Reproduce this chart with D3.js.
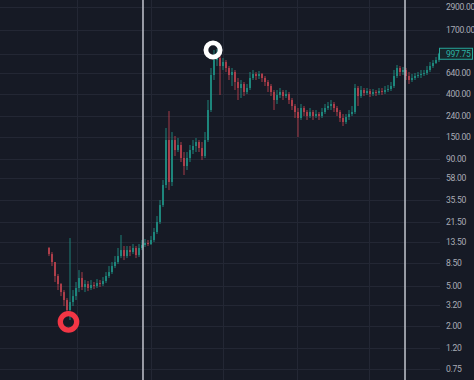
<!DOCTYPE html>
<html><head><meta charset="utf-8">
<script src="https://cdn.jsdelivr.net/npm/d3@7/dist/d3.min.js"></script>
<style>html,body{margin:0;padding:0;background:#161a25;overflow:hidden}</style>
</head><body><svg id="c" width="474" height="380"></svg>
<script>
// ---- data ----
const firstOpen = 11.86;
const closes = [10.33,8.61,6.26,5.21,4.34,3.618,2.88,3.457,3.96,4.76,
5.98,4.87,5.21,4.76,5.095,4.98,5.33,5.21,5.58,6.26,
6.85,7.86,8.61,9.87,11.32,9.87,11.32,10.82,11.86,10.10,
11.86,12.70,13.29,12.99,14.23,17.08,21.46,31.6,49.9,139.4,
53.5,139.4,110.9,124.4,92.4,77.0,92.4,110.9,121.6,133.2,
116.1,96.8,139.4,276.4,614.4,865,905,754,826.4,720.8,
614.4,658,523.7,456.7,500.3,416.8,456.7,573.7,628.6,600.5,
628.6,573.7,523.7,478,416.8,347.3,389.2,416.8,380.4,398.2,
347.3,302.8,264.1,230.3,289.3,264.1,241,264.1,241,252.3,
241,264.1,289.3,302.8,317,289.3,264.1,230.3,210.2,235.6,
252.3,264.1,456.7,380.4,436.3,407.4,426.4,398.2,416.8,407.4,
426.4,416.8,436.3,446.4,478,600.5,720.8,658,688.7,600.5,
548.1,573.7,600.5,614.4,628.6,643.1,688.7,754,808,865,997.75];
const highs = [12.13,10.82,8.61,6.55,5.33,4.545,3.787,14.89,4.545,5.46,
7.17,6.85,5.71,5.58,5.71,5.46,5.84,5.71,6.11,6.85,
7.86,8.61,9.87,11.86,15.95,12.41,12.41,12.41,12.99,12.41,
12.99,14.23,14.56,14.23,15.59,18.72,24.6,35.45,55.95,183.3,
270,167.3,152.8,145.9,133.2,106.0,106.0,124.4,139.4,145.9,
139.4,133.2,167.3,347.3,720.9,1087,1112,947.7,905,865,
754,720.8,688.7,573.7,548.1,523.7,500.3,658,688.7,658,
673.1,643.1,600.5,548.1,500.3,436.3,436.3,456.7,436.3,436.3,
416.8,363.5,317,289.3,317,302.8,276.4,289.3,276.4,276.4,
264.1,289.3,317,331.8,347.3,331.8,302.8,276.4,252.3,252.3,
276.4,302.8,500.3,478,478,456.7,456.7,446.4,446.4,436.3,
456.7,456.7,478,489,523.7,688.7,771.9,754,737.5,720.8,
658,628.6,643.1,658,688.7,688.7,754,826.4,865,926.4,1020];
const lows = [9.87,7.86,5.46,4.545,3.96,3.155,2.51,2.292,3.155,3.618,
4.34,4.545,4.34,4.44,4.545,4.65,4.76,4.87,4.98,5.33,
5.98,6.55,7.50,8.23,9.43,9.01,9.43,9.87,10.33,9.43,
9.65,11.32,12.13,12.41,12.70,13.60,16.32,20.5,30.2,46.6,
44.5,48.8,96.8,106.0,84.4,62.7,70.3,84.4,101.3,106.0,
106.0,88.3,92.4,133.2,264.1,548.1,754,389.2,688.7,658,
548.1,478,436.3,347.3,363.5,380.4,398.2,436.3,548.1,548.1,
560.8,523.7,478,416.8,380.4,276.4,317,363.5,347.3,363.5,
317,276.4,230.3,149.3,220,241,220,230.3,220,230.3,
220,230.3,252.3,276.4,276.4,264.1,241,210.2,191.9,200.8,
220,241,252.3,302.8,363.5,380.4,389.2,371.8,380.4,380.4,
389.2,389.2,398.2,416.8,426.4,456.7,573.7,600.5,614.4,548.1,
500.3,523.7,548.1,573.7,573.7,600.5,614.4,658,720.8,789.7,826.4];
const tickValues = [2900,1700,640,400,240,150,90,58,35.5,21.5,13.5,8.5,5,3.2,2,1.2,0.75];
const gridValues = [2900,1700,1000,640,400,240,150,90,58,35.5,21.5,13.5,8.5,5,3.2,2,1.2,0.75];
const monthIdx = [9.33,34,58,82.67,106.67];
const eventIdx = [31.33,118.67];
const lastPrice = 997.75;
const markers = [
  {idx:6.5, price:2.2, color:"#f23645", r:8.2, w:5.3},
  {idx:54.67, price:1087, color:"#ffffff", r:7.1, w:4.8}
];

// ---- chart ----
const W = 474, H = 380;
const svg = d3.select("#c");
const n = closes.length;
const data = closes.map((c,i)=>({i, o: i===0?firstOpen:closes[i-1], h: highs[i], l: lows[i], c}));
const x = d3.scaleLinear().domain([0, n-1]).range([49, 439]);
const y = d3.scaleLog().domain([0.75, 2900]).range([369, 7]);
const plotRight = 440;

svg.append("rect").attr("width",W).attr("height",H).attr("fill","#161a25");

// grid
svg.append("g").selectAll("line.h").data(gridValues).join("line")
  .attr("x1",0).attr("x2",plotRight)
  .attr("y1",d=>Math.round(y(d))+0.5).attr("y2",d=>Math.round(y(d))+0.5)
  .attr("stroke","#232734").attr("stroke-width",1);
svg.append("g").selectAll("line.v").data(monthIdx).join("line")
  .attr("x1",d=>Math.round(x(d))+0.5).attr("x2",d=>Math.round(x(d))+0.5)
  .attr("y1",0).attr("y2",H)
  .attr("stroke","#232734").attr("stroke-width",1);

const up = "#1f9487", dn = "#c0434f";
const g = svg.append("g");
g.selectAll("rect.wick").data(data).join("rect")
  .attr("x",d=>x(d.i)-0.5).attr("width",1)
  .attr("y",d=>y(d.h)).attr("height",d=>Math.max(1,y(d.l)-y(d.h)))
  .attr("fill",d=>d.c>=d.o?up:dn).attr("opacity",0.85);
g.selectAll("rect.body").data(data).join("rect")
  .attr("x",d=>x(d.i)-0.9).attr("width",1.8)
  .attr("y",d=>y(Math.max(d.o,d.c)))
  .attr("height",d=>Math.max(1,Math.abs(y(d.o)-y(d.c))))
  .attr("fill",d=>d.c>=d.o?up:dn).attr("opacity",0.9);

// event lines
svg.append("g").selectAll("line").data(eventIdx).join("line")
  .attr("x1",d=>x(d)).attr("x2",d=>x(d)).attr("y1",0).attr("y2",H)
  .attr("stroke","#b8bbc4").attr("stroke-width",1.6);

// markers
svg.append("g").selectAll("circle").data(markers).join("circle")
  .attr("cx",d=>x(d.idx)).attr("cy",d=>y(d.price)).attr("r",d=>d.r)
  .attr("fill","none").attr("stroke",d=>d.color).attr("stroke-width",d=>d.w);

// right axis labels
svg.append("g").selectAll("text").data(tickValues).join("text")
  .attr("x",446).attr("y",d=>y(d)).attr("dy","0.35em")
  .attr("fill","#a9acb5").attr("font-family","Roboto, 'Noto Sans', sans-serif")
  .attr("font-size","8.6px").attr("letter-spacing","-0.3px")
  .text(d=>d3.format(".2f")(d));

// last price tag
const ly = y(lastPrice);
svg.append("rect").attr("x",439.5).attr("y",ly-5.5).attr("width",33).attr("height",11)
  .attr("fill","#17262a").attr("stroke","#26a69a").attr("stroke-width",1);
svg.append("text").attr("x",446).attr("y",ly).attr("dy","0.35em")
  .attr("fill","#2bb3a4").attr("font-family","Roboto, 'Noto Sans', sans-serif")
  .attr("font-size","8.6px").attr("letter-spacing","-0.3px")
  .text(d3.format(".2f")(lastPrice));
</script></body></html>
